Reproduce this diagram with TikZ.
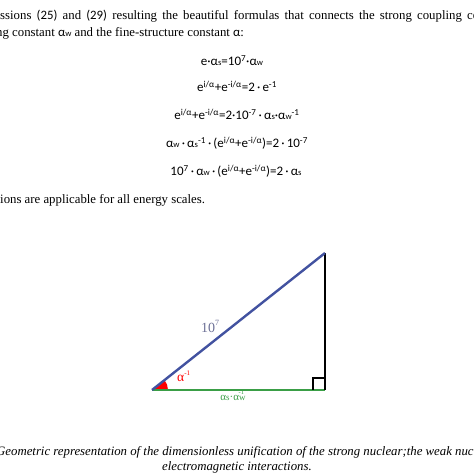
\documentclass[tikz,border=0pt]{standalone}
\usepackage{fontspec}
\setmainfont{Liberation Serif}
\newfontfamily\eqfont{Carlito}
\usepackage{xcolor}
\definecolor{hypblue}{RGB}{66,82,160}
\definecolor{legreen}{RGB}{58,158,70}
\definecolor{tengray}{RGB}{108,112,150}

\newcommand{\sml}[1]{{\fontsize{8.6}{9}\selectfont #1}}
\newcommand{\as}{α\sml{s}}
\newcommand{\aw}{α\sml{w}}
\newcommand{\ee}[1]{e\textsuperscript{#1}}
\newcommand{\md}{\,·\,}

\begin{document}
\begin{tikzpicture}[
    x=1pt,y=1pt,
    body/.style={font=\fontsize{12.8}{15}\selectfont,inner sep=0pt,anchor=base west},
    eqn/.style={font=\eqfont\fontsize{13}{15}\selectfont,inner sep=0pt,anchor=base},
    caption/.style={font=\itshape\fontsize{12.8}{15}\selectfont,inner sep=0pt},
    side/.style={line width=2.4pt},
    ]

    \def\ang{38.4}
    \def\rad{16}

    \clip (0,0) rectangle (474,474);

    % text above
    \node[body] (introa) at (0,454)
        {\makebox[479pt][s]{ssions {\eqfont (25)} and {\eqfont (29)} resulting the beautiful formulas that connects the strong coupling co}};
    \node[body] (introb) at (-4,437)
        {ng constant {\eqfont\aw} and the fine-structure constant {\eqfont α}:};

    % formulas
    \node[eqn] (eqa) at (232,408) {e·\as=10\textsuperscript{7}·\aw};
    \node[eqn] (eqb) at (237,382) {\ee{i/α}+\ee{-i/α}=2\md\ee{-1}};
    \node[eqn] (eqc) at (237,354) {\ee{i/α}+\ee{-i/α}=2·10\textsuperscript{-7}\md\as·\aw\textsuperscript{-1}};
    \node[eqn] (eqd) at (237,326) {\aw\md\as\textsuperscript{-1}\md(\ee{i/α}+\ee{-i/α})=2\md10\textsuperscript{-7}};
    \node[eqn] (eqe) at (236,298) {10\textsuperscript{7}\md\aw\md(\ee{i/α}+\ee{-i/α})=2\md\as};

    \node[body] (scales) at (0,270) {ions are applicable for all energy scales.};

    % triangle
    \coordinate (A) at (152,84);
    \coordinate (B) at (325,84);
    \coordinate (C) at (325,221);

    \fill[red] (A) -- ++(\rad,0) arc (0:\ang:\rad) -- cycle;
    \draw[side,legreen] (A) -- (B);
    \draw[black,line width=1.8pt] (B) -- (C);
    \draw[side,hypblue] (A) -- (C);
    \draw[black,line width=1.4pt] ([xshift=-12pt]B) -- ++(0,12) -- ++(12,0);

    % labels
    \node[inner sep=0pt,anchor=base west,text=tengray,font=\fontsize{14}{14}\selectfont]
        (ten) at (201,141) {10\raisebox{1.2ex}{\fontsize{8}{8}\selectfont 7}};
    \node[inner sep=0pt,anchor=base west,text=red,font=\fontsize{13.5}{14}\selectfont]
        (alpha) at (177,92) {α\raisebox{1.1ex}{\fontsize{7}{7}\selectfont -1}};
    \node[inner sep=0pt,anchor=base,text=legreen,font=\fontsize{11}{11}\selectfont]
        (ratio) at (233,73) {α{\fontsize{9}{9}\selectfont s}·α{\fontsize{9}{9}\selectfont w}\llap{\raisebox{1.3ex}{\fontsize{6.5}{6.5}\selectfont -1\kern1.5pt}}};

    % caption
    \node[caption,anchor=base west] (capa) at (-4,18)
        {Geometric representation of the dimensionless unification of the strong nuclear;the weak nuclear};
    \node[caption,anchor=base] (capb) at (237,4) {electromagnetic interactions.};

\end{tikzpicture}
\end{document}
